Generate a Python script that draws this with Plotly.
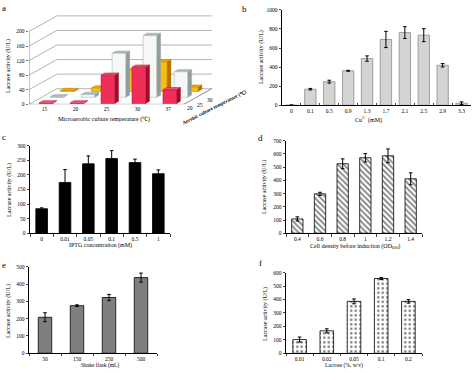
import plotly.graph_objects as go

# ---------------- data ----------------
a_micro = ["15", "20", "25", "30", "37"]
a_aerobic = ["20", "25", "30"]
a_aer20 = [2, 2, 78, 100, 38]
a_aer25 = [2, 8, 121, 170, 70]
a_aer30 = [3, 10, 58, 82, 12]
a_ticks = [0, 40, 80, 120, 160, 200]

b_cu = ["0", "0.1", "0.5", "0.9", "1.3", "1.7", "2.1", "2.5", "2.9", "3.3"]
b_val = [2, 169, 248, 362, 490, 690, 762, 735, 420, 22]
b_err = [2, 8, 15, 5, 28, 85, 62, 68, 18, 14]

c_iptg = ["0", "0.01", "0.05", "0.1", "0.5", "1"]
c_val = [84, 174, 238, 256, 242, 204]
c_err = [3, 44, 27, 27, 12, 13]

d_od = ["0.4", "0.6", "0.8", "1", "1.2", "1.4"]
d_val = [108, 298, 526, 571, 586, 412]
d_err = [16, 12, 37, 32, 52, 45]

e_flask = ["50", "150", "250", "500"]
e_val = [208, 275, 322, 437]
e_err = [26, 5, 18, 26]

f_lac = ["0.01", "0.02", "0.05", "0.1", "0.2"]
f_val = [102, 167, 386, 556, 386]
f_err = [19, 15, 18, 8, 13]

# ---------------- helpers ----------------
W, H = 474, 373
FONT = "Liberation Serif"
TICKF = dict(family=FONT, size=5.5, color="black")


def px(x):
    return x / W


def py(y):
    return 1 - y / H


fig = go.Figure()

# ---------------- panel a : pseudo-3D bars ----------------
DX, DY = 0.9, 43.0          # depth offset of back wall in data units
BW, BD = 0.44, 0.14         # bar width, bar depth fraction
row_depth = [0.05, 0.45, 0.82]
row_vals = [a_aer20, a_aer25, a_aer30]
row_cols = [
    dict(front="#EE2F5A", top="#F4517A", side="#A30C2C", line="#B01434"),
    dict(front="#F6F8F8", top="#AEBABA", side="#8E9E9E", line="#9AA8A8"),
    dict(front="#F8BC12", top="#F2A800", side="#B27200", line="#C08000"),
]
grid_c = "#A0A0A0"

# walls and floor
for v in a_ticks:
    fig.add_trace(go.Scatter(x=[0, DX, 5 + DX], y=[v, v + DY, v + DY], mode="lines",
                             line=dict(color=grid_c, width=0.8), hoverinfo="skip",
                             showlegend=False, xaxis="x", yaxis="y"))
fig.add_trace(go.Scatter(x=[0, 5, 5 + DX], y=[0, 0, DY], mode="lines",
                         line=dict(color="#707070", width=0.8), hoverinfo="skip",
                         showlegend=False, xaxis="x", yaxis="y"))
fig.add_trace(go.Scatter(x=[0, 0], y=[0, a_ticks[-1]], mode="lines",
                         line=dict(color="#707070", width=0.8), hoverinfo="skip",
                         showlegend=False, xaxis="x", yaxis="y"))

# bars, back row first
for k in [2, 1, 0]:
    d0 = row_depth[k]
    fx, fy, tx, ty, sx, sy = [], [], [], [], [], []
    for i, v in enumerate(row_vals[k]):
        x0 = i + 0.5 - BW / 2 + d0 * DX
        x1 = x0 + BW
        y0 = d0 * DY
        y1 = y0 + v
        ox, oy = BD * DX, BD * DY
        fx += [x0, x1, x1, x0, x0, None]
        fy += [y0, y0, y1, y1, y0, None]
        tx += [x0, x1, x1 + ox, x0 + ox, x0, None]
        ty += [y1, y1, y1 + oy, y1 + oy, y1, None]
        sx += [x1, x1 + ox, x1 + ox, x1, x1, None]
        sy += [y0, y0 + oy, y1 + oy, y1, y0, None]
    c = row_cols[k]
    for xs, ys, col in [(sx, sy, c["side"]), (tx, ty, c["top"]), (fx, fy, c["front"])]:
        fig.add_trace(go.Scatter(x=xs, y=ys, mode="lines", fill="toself", fillcolor=col,
                                 line=dict(color=c["line"], width=0.5), hoverinfo="skip",
                                 showlegend=False, xaxis="x", yaxis="y"))

# ---------------- bar panels b-f ----------------
def bar_panel(xn, yn, cats, vals, errs, width, color, line_color, pattern=None):
    marker = dict(color=color, line=dict(color=line_color, width=0.8))
    if pattern:
        marker["pattern"] = pattern
    fig.add_trace(go.Bar(x=cats, y=vals, width=width, marker=marker,
                         error_y=dict(type="data", array=errs, color="black",
                                      thickness=1, width=1.8),
                         showlegend=False, xaxis=xn, yaxis=yn))


bar_panel("x2", "y2", b_cu, b_val, b_err, 0.6, "#D4D4D4", "#8C8C8C")
bar_panel("x3", "y3", c_iptg, c_val, c_err, 0.5, "black", "black")
bar_panel("x4", "y4", d_od, d_val, d_err, 0.5, "white", "black",
          dict(shape="\\", fgcolor="black", bgcolor="white", size=4, solidity=0.45))
bar_panel("x5", "y5", e_flask, e_val, e_err, 0.42, "#7F7F7F", "black")
bar_panel("x6", "y6", f_lac, f_val, f_err, 0.5, "white", "black",
          dict(shape=".", fgcolor="black", bgcolor="white", size=4.5, solidity=0.25))


def xax(dom, anchor, cats, tl=2.5, tk="outside"):
    return dict(domain=dom, anchor=anchor, type="category", categoryorder="array",
                categoryarray=cats, range=[-0.5, len(cats) - 0.5],
                showline=True, linecolor="black", linewidth=0.8,
                ticks=tk, ticklen=tl, tickwidth=0.8, tickson="boundaries",
                tickfont=TICKF, showgrid=False, zeroline=False, fixedrange=True,
                ticklabeloverflow="allow")


def yax(dom, anchor, rng, dt):
    return dict(domain=dom, anchor=anchor, range=rng, dtick=dt, showline=True,
                linecolor="black", linewidth=0.8, ticks="outside", ticklen=2.5,
                tickwidth=0.8, tickfont=TICKF, showgrid=False, zeroline=False,
                fixedrange=True)


layout = dict(
    width=W, height=H, margin=dict(l=0, r=0, t=0, b=0),
    paper_bgcolor="white", plot_bgcolor="white", showlegend=False,
    font=dict(family=FONT, size=6, color="black"),
    xaxis=dict(domain=[px(29), px(221)], anchor="y", range=[0, 6.2],
               tickvals=[i + 0.5 for i in range(len(a_micro))], ticktext=a_micro,
               showline=False, showgrid=False, zeroline=False, ticks="",
               tickfont=TICKF, fixedrange=True),
    yaxis=dict(domain=[py(103), py(10.5)], anchor="x", range=[0, 250],
               tickvals=a_ticks, showline=False, showgrid=False, zeroline=False,
               ticks="outside", ticklen=2.5, tickwidth=0.8, tickcolor="#707070",
               tickfont=TICKF, fixedrange=True),
    xaxis2=xax([px(282), px(471)], "y2", b_cu, 2, "inside"),
    yaxis2=yax([py(104), py(7)], "x2", [0, 1000], 200),
    xaxis3=xax([px(30), px(170)], "y3", c_iptg),
    yaxis3=yax([py(234), py(145)], "x3", [0, 300], 50),
    xaxis4=xax([px(286), px(422)], "y4", d_od),
    yaxis4=yax([py(234), py(140)], "x4", [0, 700], 100),
    xaxis5=xax([px(29), px(157)], "y5", e_flask, 2),
    yaxis5=yax([py(356), py(268)], "x5", [0, 500], 100),
    xaxis6=xax([px(286), px(422)], "y6", f_lac, 2),
    yaxis6=yax([py(356), py(274)], "x6", [0, 600], 100),
)
fig.update_layout(**layout)

TF = dict(family=FONT, size=6, color="black")
TF2 = dict(family=FONT, size=5.5, color="black")
LF = dict(family=FONT, size=9, color="black")
SF = dict(family=FONT, size=5.5, color="black")
ytitle = "Laccase activity (U/L)"
texts = [
    # panel letters
    ("a", 4, 5, 0, LF), ("b", 244, 6, 0, LF), ("c", 4, 136, 0, LF),
    ("d", 260, 137, 0, LF), ("e", 4, 266, 0, LF), ("f", 260, 264, 0, LF),
    # y titles
    (ytitle, 9, 64, -90, TF), (ytitle, 261, 55, -90, TF), (ytitle, 10, 190, -90, TF),
    (ytitle, 265, 187, -90, TF), (ytitle, 9, 313, -90, TF), (ytitle, 266, 316, -90, TF),
    # x titles
    ("Microaerobic culture temperature (\u2103)", 104, 118, 0, TF),
    ("Cu<sup>2+</sup> (mM)", 368, 118, 0, TF),
    ("IPTG concentration (mM)", 100, 246, 0, TF),
    ("Cell density before induction (OD<sub>600</sub>)", 355, 247, 0, TF),
    ("Shake flask (mL)", 100, 368, 0, TF2),
    ("Lactose (%, w/v)", 344, 368, 0, TF2),
    # depth axis of panel a
    (a_aerobic[0], 190, 107, 0, SF), (a_aerobic[1], 200, 104, 0, SF),
    (a_aerobic[2], 210, 99, 0, SF),
    ("<b>Aerobic culture temperature (\u2103)</b>", 214, 106, -27,
     dict(family=FONT, size=5, color="black")),
]
for t, x, y, ang, f in texts:
    fig.add_annotation(x=px(x), y=py(y), xref="paper", yref="paper", text=t,
                       showarrow=False, textangle=ang, font=f,
                       xanchor="center", yanchor="middle")

fig.write_html("out.html", config={"displayModeBar": False},
               post_script="document.body.style.margin='0';document.body.style.padding='0';")
